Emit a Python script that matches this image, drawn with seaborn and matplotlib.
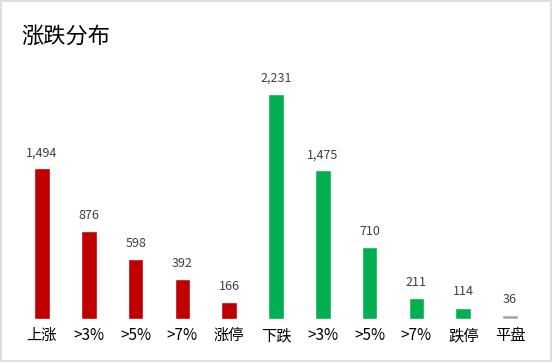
import pandas as pd
import matplotlib
matplotlib.use("Agg")
import matplotlib.pyplot as plt
import seaborn as sns
from matplotlib.patches import Rectangle

# data
labels = ["上涨", ">3%", ">5%", ">7%", "涨停", "下跌", ">3%", ">5%", ">7%", "跌停", "平盘"]
values = [1494, 876, 598, 392, 166, 2231, 1475, 710, 211, 114, 36]
colors = ["#C00000"] * 5 + ["#00B050"] * 5 + ["#A6A6A6"]

sns.set_style("white")
plt.rcParams["font.family"] = ["Noto Sans CJK SC", "DejaVu Sans"]

df = pd.DataFrame({"pos": list(range(len(labels))), "value": values})

fig = plt.figure(figsize=(5.53, 3.62), dpi=100)
ax = fig.add_axes([0.0336, 0.1188, 0.931, 0.696])

sns.barplot(data=df, x="pos", y="value", hue="pos", palette=colors,
            legend=False, width=0.33, saturation=1, ax=ax)

for i, v in enumerate(values):
    ax.text(i, v + 90, f"{v:,}", ha="center", va="bottom",
            fontsize=9, color="#404040")

ax.set_xlim(-0.5, len(labels) - 0.5)
ax.set_ylim(0, 2500)
ax.set_xticks(range(len(labels)))
ax.set_xticklabels(labels, fontsize=11, color="black")
ax.tick_params(axis="x", length=0, pad=6)
ax.set_yticks([])
ax.set_xlabel("")
ax.set_ylabel("")
sns.despine(ax=ax, left=True, bottom=True)

fig.text(0.038, 0.9, "涨跌分布", fontsize=16, color="black", va="center", ha="left")

# outer border
fig.patches.append(Rectangle((0.002, 0.003), 0.995, 0.994, transform=fig.transFigure,
                             fill=False, edgecolor="#D9D9D9", linewidth=1.2))

fig.savefig("out.png", dpi=100, facecolor="white")
